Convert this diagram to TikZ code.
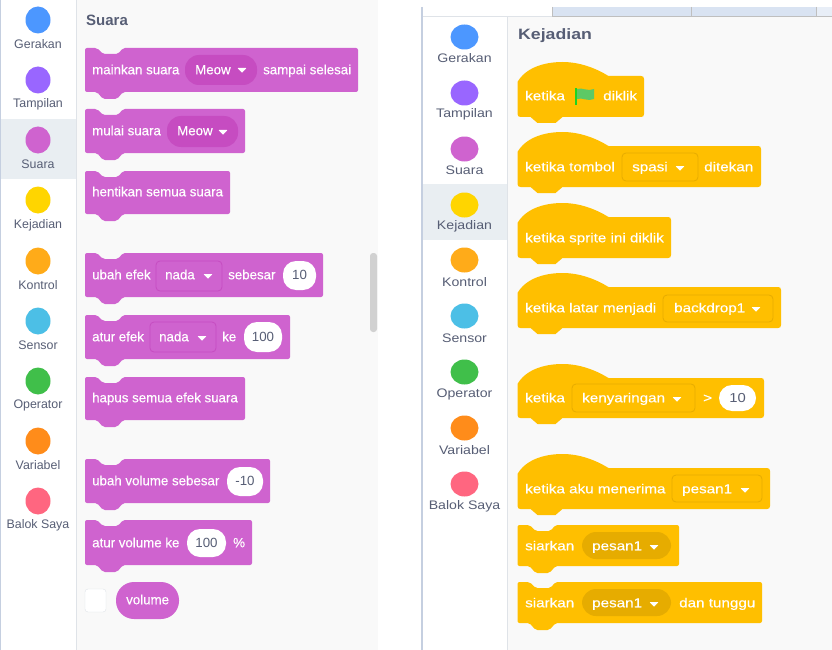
\documentclass[tikz,border=0pt]{standalone}
\usepackage{fontspec}
\setmainfont{Liberation Sans}
\newfontfamily\blockfont[FakeBold=0.25]{Liberation Sans}
\newfontfamily\widefont[FakeStretch=1.17,FakeBold=0.25]{Liberation Sans}
\newfontfamily\sidewide[FakeStretch=1.14]{Liberation Sans}
\newfontfamily\titlewide[FakeStretch=1.18]{Liberation Sans}
\usepackage{tikz}
\definecolor{suaraBlock}{HTML}{CF63CF}
\definecolor{suaraDark}{HTML}{C64CC1}
\definecolor{eventBlock}{HTML}{FFBF00}
\definecolor{eventDark}{HTML}{E6AC00}
\definecolor{panelBg}{HTML}{F9F9F9}
\definecolor{panelSel}{HTML}{E9EEF2}
\definecolor{panelLine}{HTML}{DFE3E8}
\definecolor{panelEdge}{HTML}{C5CFE0}
\definecolor{grayText}{HTML}{575E75}
\definecolor{tabBlue}{HTML}{D9E3F2}
\definecolor{cGerakan}{HTML}{4C97FF}
\definecolor{cTampilan}{HTML}{9966FF}
\definecolor{cSuara}{HTML}{CF63CF}
\definecolor{cKejadian}{HTML}{FFD500}
\definecolor{cKontrol}{HTML}{FFAB19}
\definecolor{cSensor}{HTML}{4CBFE6}
\definecolor{cOperator}{HTML}{40BF4A}
\definecolor{cVariabel}{HTML}{FF8C1A}
\definecolor{cBalok}{HTML}{FF6680}
\tikzset{
    blocktext/.style={anchor=west, text=white, inner sep=0pt, text height=11pt, text depth=2.5pt, font=\blockfont\fontsize{13.3}{15}\selectfont},
    evtext/.style={blocktext, font=\widefont\fontsize{13}{15}\selectfont},
    numtext/.style={text=grayText, inner sep=0pt, text height=11pt, text depth=2.5pt, font=\fontsize{13.3}{15}\selectfont},
    evnumtext/.style={numtext, font=\sidewide\fontsize{13}{15}\selectfont},
    sidetext/.style={text=grayText, inner sep=0pt, font=\fontsize{12.4}{14}\selectfont},
    sidetextwide/.style={text=grayText, inner sep=0pt, font=\sidewide\fontsize{12.4}{14}\selectfont},
    titletext/.style={anchor=west, text=grayText, inner sep=0pt, font=\bfseries\fontsize{15}{17}\selectfont},
    titlewidetext/.style={anchor=west, text=grayText, inner sep=0pt, font=\titlewide\bfseries\fontsize{15}{17}\selectfont},
    ovalbox/.style={rectangle, rounded corners=14pt, inner sep=0pt},
    numbox/.style={fill=white, rounded corners=13pt},
    dropbox/.style={rounded corners=4pt, line width=0.8pt},
}
% x, top, right, bottom, colour
\newcommand{\stackblock}[5]{%
  \fill[#5, rounded corners=2pt] (#1,#2) -- (#1+12,#2) -- (#1+18,#2+6) -- (#1+33,#2+6) -- (#1+38,#2)
    -- (#3,#2) -- (#3,#4) -- (#1+38,#4) -- (#1+32,#4+7) -- (#1+18,#4+7) -- (#1+12,#4) -- (#1,#4) -- cycle;
}
\newcommand{\hatblock}[5]{%
  \fill[#5] (#1,#2+6) .. controls (#1+8,#2-8) and (#1+26,#2-14) .. (#1+45,#2-14)
    .. controls (#1+62,#2-14) and (#1+78,#2-8) .. (#1+91,#2) -- (#3-3,#2)
    .. controls (#3-1,#2) and (#3,#2+1) .. (#3,#2+3) -- (#3,#4-3)
    .. controls (#3,#4-1) and (#3-1,#4) .. (#3-3,#4) -- (#1+45,#4) -- (#1+38,#4+6) -- (#1+20,#4+6)
    -- (#1+13,#4) -- (#1+3,#4) .. controls (#1+1,#4) and (#1,#4-1) .. (#1,#4-3) -- cycle;
}
\newcommand{\caretat}[2]{%
  \fill[white, rounded corners=0.6pt] (#1-4.5,#2-2) -- (#1+4.5,#2-2) -- (#1,#2+2.8) -- cycle;
}
\begin{document}
\begin{tikzpicture}[x=1pt,y=-1pt]
\useasboundingbox (0,0) rectangle (832,650);
\fill[white] (0,0) rectangle (832,650);

% left panel
\fill[panelBg] (76,0) rectangle (378,650);
\fill[panelSel] (1,119) rectangle (76,179);
\draw[panelLine, line width=1pt] (76,0) -- (76,650);
\draw[panelEdge, line width=1.2pt] (0.5,0) -- (0.5,650);
\foreach \cy/\ly/\col/\txt [count=\i] in {20/44/cGerakan/Gerakan, 80/104/cTampilan/Tampilan, 140/164/cSuara/Suara,
    200/225/cKejadian/Kejadian, 261/285/cKontrol/Kontrol, 321/345/cSensor/Sensor,
    381/405/cOperator/Operator, 441/465/cVariabel/Variabel, 501/525/cBalok/Balok Saya}{
  \fill[\col] (38,\cy) ellipse [x radius=12.5, y radius=13.5];
  \node[sidetext] (leftlabel\i) at (38,\ly) {\txt};
}
\node[titletext] (leftTitle) at (86,20) {Suara};
\fill[black!18, rounded corners=3pt] (370,253) rectangle (377,332);

\stackblock{85}{48}{358}{92}{suaraBlock}
\fill[suaraDark, ovalbox] (185,55) rectangle (257,85);
\node[blocktext] (s1a) at (92,70) {mainkan suara};
\node[blocktext] (s1b) at (195,70) {Meow};
\caretat{242}{70}
\node[blocktext] (s1c) at (263,70) {sampai selesai};

\stackblock{85}{109}{245}{153}{suaraBlock}
\fill[suaraDark, ovalbox] (167,116) rectangle (238,147);
\node[blocktext] (s2a) at (92,131) {mulai suara};
\node[blocktext] (s2b) at (177,131) {Meow};
\caretat{223}{132}

\stackblock{85}{171}{230}{214}{suaraBlock}
\node[blocktext] (s3a) at (92,192) {hentikan semua suara};

\stackblock{85}{253}{323}{297}{suaraBlock}
\draw[suaraDark, dropbox] (156,261) rectangle (222,291);
\fill[white, numbox] (283,261) rectangle (316,290);
\node[blocktext] (s4a) at (92,275) {ubah efek};
\node[blocktext] (s4b) at (165,275) {nada};
\caretat{208}{276}
\node[blocktext] (s4c) at (228,275) {sebesar};
\node[numtext] (s4d) at (299.5,275) {10};

\stackblock{85}{315}{290}{359}{suaraBlock}
\draw[suaraDark, dropbox] (150,322) rectangle (216,352);
\fill[white, numbox] (244,322) rectangle (282,352);
\node[blocktext] (s5a) at (92,337) {atur efek};
\node[blocktext] (s5b) at (159,337) {nada};
\caretat{202}{338}
\node[blocktext] (s5c) at (222,337) {ke};
\node[numtext] (s5d) at (263,337) {100};

\stackblock{85}{377}{245}{420}{suaraBlock}
\node[blocktext] (s6a) at (92,398) {hapus semua efek suara};

\stackblock{85}{459}{270}{503}{suaraBlock}
\fill[white, numbox] (227,467) rectangle (263,496);
\node[blocktext] (s7a) at (92,481) {ubah volume sebesar};
\node[numtext] (s7b) at (245,481) {-10};

\stackblock{85}{520}{252}{565}{suaraBlock}
\fill[white, numbox] (187,529) rectangle (226,557);
\node[blocktext] (s8a) at (92,543) {atur volume ke};
\node[numtext] (s8b) at (206.5,543) {100};
\node[blocktext] (s8c) at (233,543) {\%};

\draw[panelLine, fill=white, rounded corners=3pt] (85,589) rectangle (106,612);
\fill[suaraBlock, rounded corners=18pt] (116,582) rectangle (179,619);
\node[blocktext] (s9a) at (126,600) {volume};

% right panel
\fill[panelBg] (507,17) rectangle (832,650);
\fill[panelSel] (423,184) rectangle (507,240);
\fill[tabBlue] (552,7) rectangle (816,16);
\fill[tabBlue!60!white] (816,7) rectangle (832,16);
\draw[black!25, line width=0.7pt] (552,7) -- (552,16) -- (832,16);
\draw[black!25, line width=0.7pt] (691,7) -- (691,16) (816,7) -- (816,16);
\draw[panelLine, line width=1pt] (423,16.5) -- (552,16.5) (507,17) -- (507,650);
\draw[panelEdge, line width=1.2pt] (422,7) -- (422,650);
\foreach \cy/\ly/\col/\txt [count=\i] in {37/58/cGerakan/Gerakan, 93/114/cTampilan/Tampilan, 149/170/cSuara/Suara,
    205/226/cKejadian/Kejadian, 260/282/cKontrol/Kontrol, 316/338/cSensor/Sensor,
    372/394/cOperator/Operator, 428/450/cVariabel/Variabel, 484/506/cBalok/Balok Saya}{
  \fill[\col] (464.5,\cy) ellipse [x radius=14, y radius=12.5];
  \node[sidetextwide] (rightlabel\i) at (464.5,\ly) {\txt};
}
\node[titlewidetext] (rightTitle) at (518,36) {Kejadian};

\hatblock{517.5}{76}{644}{117}{eventBlock}
\node[evtext] (k1a) at (525,96) {ketika};
\fill[black!10!green!55!cOperator] (575,88) rectangle (577,105);
\fill[cOperator!85!white] (577,89) .. controls (582,87) and (588,92) .. (594,89) -- (594,99) .. controls (588,102) and (582,97) .. (577,99) -- cycle;
\node[evtext] (k1b) at (603,96) {diklik};

\hatblock{517.5}{146}{761}{187}{eventBlock}
\draw[eventDark, dropbox] (622,153) rectangle (698,181);
\node[evtext] (k2a) at (525,167) {ketika tombol};
\node[evtext] (k2b) at (632,167) {spasi};
\caretat{680}{168}
\node[evtext] (k2c) at (704,167) {ditekan};

\hatblock{517.5}{217}{671}{258}{eventBlock}
\node[evtext] (k3a) at (525,238) {ketika sprite ini diklik};

\hatblock{517.5}{287}{781}{328}{eventBlock}
\draw[eventDark, dropbox] (663,295) rectangle (773,322);
\node[evtext] (k4a) at (525,308) {ketika latar menjadi};
\node[evtext] (k4b) at (674,308) {backdrop1};
\caretat{756}{309}

\hatblock{517.5}{378}{764}{418}{eventBlock}
\draw[eventDark, dropbox] (572,384) rectangle (695,412);
\fill[white, numbox] (719,385) rectangle (756,411);
\node[evtext] (k5a) at (525,398) {ketika};
\node[evtext] (k5b) at (582,398) {kenyaringan};
\caretat{677}{399}
\node[evtext] (k5c) at (703,398) {>};
\node[evnumtext] (k5d) at (737.5,398) {10};

\hatblock{517.5}{468}{770}{509}{eventBlock}
\draw[eventDark, dropbox] (672,475) rectangle (762,502);
\node[evtext] (k6a) at (525,489) {ketika aku menerima};
\node[evtext] (k6b) at (682,489) {pesan1};
\caretat{745}{490}

\stackblock{517.5}{525}{679}{566}{eventBlock}
\fill[eventDark, ovalbox] (582,532) rectangle (671,559);
\node[evtext] (k7a) at (525,546) {siarkan};
\node[evtext] (k7b) at (592,546) {pesan1};
\caretat{654}{547}

\stackblock{517.5}{582}{762}{623}{eventBlock}
\fill[eventDark, ovalbox] (582,589) rectangle (671,616);
\node[evtext] (k8a) at (525,603) {siarkan};
\node[evtext] (k8b) at (592,603) {pesan1};
\caretat{654}{604}
\node[evtext] (k8c) at (679,603) {dan tunggu};
\end{tikzpicture}
\end{document}
